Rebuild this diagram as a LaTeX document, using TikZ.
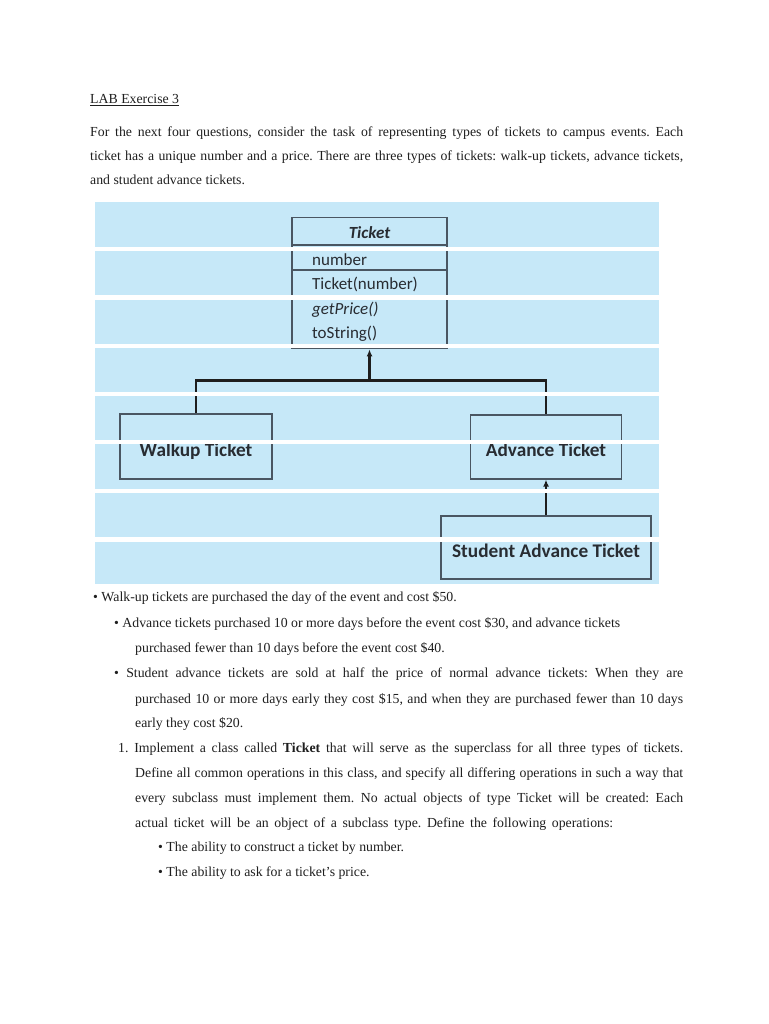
\documentclass[tikz,border=0pt]{standalone}
\usepackage{fontspec}
\setmainfont{Liberation Serif}
\newfontfamily\umlfont{Carlito}
\usepackage{tikz}
\usetikzlibrary{positioning,arrows.meta}
\definecolor{panelblue}{RGB}{198,232,248}
\definecolor{boxgray}{RGB}{74,86,98}
\definecolor{inkdark}{RGB}{30,30,30}
\definecolor{umltext}{RGB}{40,44,50}
\frenchspacing

\begin{document}
\begin{tikzpicture}[x=1pt,y=-1pt,
  body/.style={anchor=base west,inner sep=0pt,font=\fontsize{13.8}{16}\selectfont,text=inkdark},
  classbox/.style={draw=boxgray,line width=1.3pt,inner sep=0pt,text height=19pt,text depth=0pt,
    font=\umlfont\bfseries\fontsize{19.3}{22}\selectfont,text=umltext},
  member/.style={anchor=base west,inner sep=0pt,font=\umlfont\fontsize{17}{20}\selectfont,text=umltext},
  inherit/.style={line width=2.8pt,draw=inkdark}]
  \useasboundingbox (0,0) rectangle (768,1024);

  % page text above the figure
  \node[body] (title) at (90,104) {\underline{LAB Exercise 3}};
  \foreach \x/\y/\w/\txt in {
    90/137/593/{For the next four questions, consider the task of representing types of tickets to campus events. Each},
    90/161/593/{ticket has a unique number and a price. There are three types of tickets: walk-up tickets, advance tickets,}}
    \node[body] (ln\y) at (\x,\y) {\makebox[\w pt][s]{\txt}};
  \node[body] (ln185) at (90,185) {and student advance tickets.};

  % the class diagram
  \fill[panelblue] (95,202) rectangle (659,584);
  \node[classbox,minimum width=155pt,minimum height=131.5pt] (ticket) at (369.5,283) {};
  \node[anchor=base,inner sep=0pt,font=\umlfont\bfseries\itshape\fontsize{17}{20}\selectfont,text=umltext]
    (tname) at (369.5,238) {Ticket};
  \draw[boxgray,line width=1.1pt] (292,245) -- (447,245);
  \draw[boxgray,line width=1.1pt] (292,270) -- (447,270);
  \draw[boxgray,line width=1.1pt] (292,297) -- (447,297);
  \node[member] (fnum) at (312,265) {number};
  \node[member] (ctor) at (312,289) {Ticket(number)};
  \node[member] (mprice) at (312,314) {\itshape getPrice()};
  \node[member] (mstr) at (312,338) {toString()};

  \node[classbox,minimum width=152pt,minimum height=65pt] (walkup) at (196,446.5) {Walkup Ticket};
  \node[classbox,minimum width=151pt,minimum height=64pt] (advance) at (546,447) {Advance Ticket};
  \node[classbox,minimum width=210pt,minimum height=63pt] (student) at (546,547.5) {Student Advance Ticket};

  \coordinate (join) at (369.5,380.5);
  \draw[inherit] (walkup.north) |- (join) -| (advance.north);
  \draw[inherit,-{Latex[length=7pt,width=6pt]}] (join) -- (ticket.south);
  \draw[inherit,-{Latex[length=7pt,width=6pt]}] (student.north) -- (advance.south);

  % white scan bands over the figure
  \foreach \top/\bot in {246.5/250.5,295/299.5,343.5/347.5,392/396,440/444,488.5/492.5,537/541.5}
    \fill[white] (95,\top) rectangle (659,\bot);

  % page text below the figure
  \foreach \x/\y/\w/\txt in {
    114/677/569/{• Student advance tickets are sold at half the price of normal advance tickets: When they are},
    135/703/548/{purchased 10 or more days early they cost \$15, and when they are purchased fewer than 10 days},
    118/752/565/{1. Implement a class called \textbf{Ticket} that will serve as the superclass for all three types of tickets.},
    135/777/548/{Define all common operations in this class, and specify all differing operations in such a way that},
    135/802/548/{every subclass must implement them. No actual objects of type Ticket will be created: Each},
    135/827/478/{actual ticket will be an object of a subclass type. Define the following operations:}}
    \node[body] (ln\y) at (\x,\y) {\makebox[\w pt][s]{\txt}};
  \foreach \x/\y/\txt in {
    93/601/{• Walk-up tickets are purchased the day of the event and cost \$50.},
    114/627/{• Advance tickets purchased 10 or more days before the event cost \$30, and advance tickets},
    135/652/{purchased fewer than 10 days before the event cost \$40.},
    135/727/{early they cost \$20.},
    158/851/{• The ability to construct a ticket by number.},
    158/876/{• The ability to ask for a ticket’s price.}}
    \node[body] (ln\y) at (\x,\y) {\txt};
\end{tikzpicture}
\end{document}
